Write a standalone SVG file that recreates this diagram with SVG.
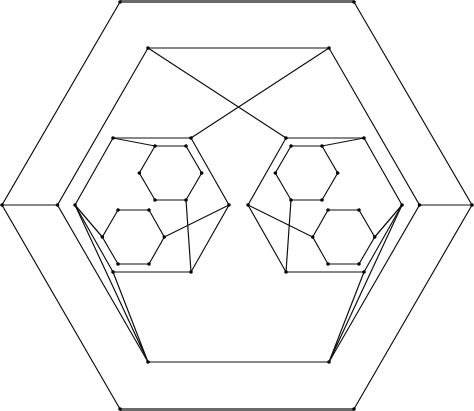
<svg xmlns="http://www.w3.org/2000/svg" width="474" height="411" viewBox="0 0 474 411">
<style>
.e{stroke:#111;stroke-width:1.2;fill:none}
.b{stroke:#6a6a6a;stroke-width:3.2;fill:none}
.n circle{fill:#111}
</style>
<defs><circle id="d" r="1.8"/></defs>
<rect width="474" height="411" fill="#fff"/>
<g id="connectors">
<line class="b" x1="120" y1="1.5" x2="354" y2="1.5"/>
<line class="b" x1="120" y1="409.5" x2="354" y2="409.5"/>
<path class="e" d="M120,2 L2,205 L120,409 M354,2 L472,205 L354,409"/>
<path class="e" d="M2,205 H57.5 M472,205 H419.5"/>
<path class="e" d="M148,48 H329 L419.5,205 L329,362 H148 L57.5,205 Z"/>
<path class="e" d="M148,48 L286,138 M329,48 L191,138"/>
<path class="e" d="M113,138 H191 L229,205 L191,272 H113 L75,205 Z"/>
<path class="e" d="M286,138 H364 L402,205 L364,272 H286 L248,205 Z"/>
<path class="e" d="M148,362 L75,205 M148,362 L113,272 M329,362 L402,205 M329,362 L364,272"/>
<path class="e" d="M113,138 L155,146 M191,272 L186,200 M229,205 L164.3,237 M75,205 L102.3,237"/>
<path class="e" d="M364,138 L322,146 M286,272 L291,200 M248,205 L312.7,237 M402,205 L374.7,237"/>
<path class="e" d="M155,146 H186 L201.7,173 L186,200 H155 L139.3,173 Z"/>
<path class="e" d="M118,210 H149 L164.3,237 L149,264 H118 L102.3,237 Z"/>
<path class="e" d="M291,146 H322 L337.7,173 L322,200 H291 L275.3,173 Z"/>
<path class="e" d="M328,210 H359 L374.7,237 L359,264 H328 L312.7,237 Z"/>
</g>
<g class="n">
<g id="o1"><use href="#d" x="120" y="2"/></g>
<g id="o2"><use href="#d" x="354" y="2"/></g>
<g id="o3"><use href="#d" x="472" y="205"/></g>
<g id="o4"><use href="#d" x="354" y="409"/></g>
<g id="o5"><use href="#d" x="120" y="409"/></g>
<g id="o6"><use href="#d" x="2" y="205"/></g>
<g id="m1"><use href="#d" x="148" y="48"/></g>
<g id="m2"><use href="#d" x="329" y="48"/></g>
<g id="m3"><use href="#d" x="419.5" y="205"/></g>
<g id="m4"><use href="#d" x="329" y="362"/></g>
<g id="m5"><use href="#d" x="148" y="362"/></g>
<g id="m6"><use href="#d" x="57.5" y="205"/></g>
<g id="l1"><use href="#d" x="113" y="138"/></g>
<g id="l2"><use href="#d" x="191" y="138"/></g>
<g id="l3"><use href="#d" x="229" y="205"/></g>
<g id="l4"><use href="#d" x="191" y="272"/></g>
<g id="l5"><use href="#d" x="113" y="272"/></g>
<g id="l6"><use href="#d" x="75" y="205"/></g>
<g id="r1"><use href="#d" x="286" y="138"/></g>
<g id="r2"><use href="#d" x="364" y="138"/></g>
<g id="r3"><use href="#d" x="402" y="205"/></g>
<g id="r4"><use href="#d" x="364" y="272"/></g>
<g id="r5"><use href="#d" x="286" y="272"/></g>
<g id="r6"><use href="#d" x="248" y="205"/></g>
<g id="a1"><use href="#d" x="155" y="146"/></g>
<g id="a2"><use href="#d" x="186" y="146"/></g>
<g id="a3"><use href="#d" x="201.7" y="173"/></g>
<g id="a4"><use href="#d" x="186" y="200"/></g>
<g id="a5"><use href="#d" x="155" y="200"/></g>
<g id="a6"><use href="#d" x="139.3" y="173"/></g>
<g id="b1"><use href="#d" x="118" y="210"/></g>
<g id="b2"><use href="#d" x="149" y="210"/></g>
<g id="b3"><use href="#d" x="164.3" y="237"/></g>
<g id="b4"><use href="#d" x="149" y="264"/></g>
<g id="b5"><use href="#d" x="118" y="264"/></g>
<g id="b6"><use href="#d" x="102.3" y="237"/></g>
<g id="c1"><use href="#d" x="291" y="146"/></g>
<g id="c2"><use href="#d" x="322" y="146"/></g>
<g id="c3"><use href="#d" x="337.7" y="173"/></g>
<g id="c4"><use href="#d" x="322" y="200"/></g>
<g id="c5"><use href="#d" x="291" y="200"/></g>
<g id="c6"><use href="#d" x="275.3" y="173"/></g>
<g id="d1"><use href="#d" x="328" y="210"/></g>
<g id="d2"><use href="#d" x="359" y="210"/></g>
<g id="d3"><use href="#d" x="374.7" y="237"/></g>
<g id="d4"><use href="#d" x="359" y="264"/></g>
<g id="d5"><use href="#d" x="328" y="264"/></g>
<g id="d6"><use href="#d" x="312.7" y="237"/></g>
</g>
</svg>
